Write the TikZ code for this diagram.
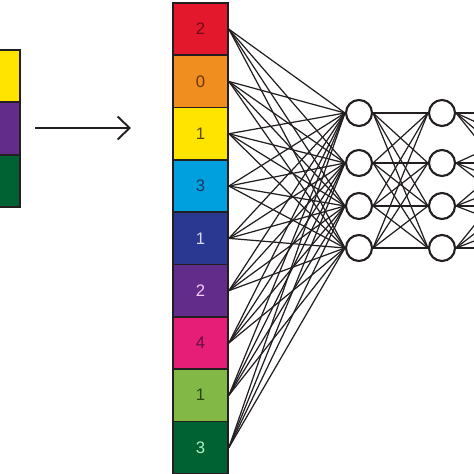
\documentclass[tikz,border=0pt]{standalone}
\usepackage{fontspec}
\setsansfont{Liberation Sans}
\usetikzlibrary{arrows.meta}
\definecolor{cedge}{RGB}{35,31,32}
\definecolor{cred}{RGB}{227,24,44}
\definecolor{corg}{RGB}{240,142,32}
\definecolor{cyel}{RGB}{255,228,0}
\definecolor{cblu}{RGB}{0,160,222}
\definecolor{cnav}{RGB}{43,56,145}
\definecolor{cpur}{RGB}{97,44,138}
\definecolor{cpnk}{RGB}{231,30,120}
\definecolor{clgr}{RGB}{130,185,70}
\definecolor{cdgr}{RGB}{0,98,50}
\definecolor{tred}{RGB}{120,10,20}
\definecolor{torg}{RGB}{105,55,10}
\definecolor{tyel}{RGB}{90,75,0}
\definecolor{tblu}{RGB}{25,55,105}
\definecolor{tnav}{RGB}{215,218,245}
\definecolor{tpur}{RGB}{245,205,245}
\definecolor{tpnk}{RGB}{100,15,60}
\definecolor{tlgr}{RGB}{40,70,15}
\definecolor{tdgr}{RGB}{170,240,195}
\tikzset{
  cell/.style={draw=cedge, line width=1pt, minimum width=1.1cm,
    minimum height=1.046cm, inner sep=0pt, font=\sffamily\fontsize{9.5}{11}\selectfont},
  unit/.style={circle, draw=cedge, line width=1.2pt, minimum size=0.52cm, inner sep=0pt},
  link/.style={cedge, line width=0.7pt}
}

\begin{document}
\begin{tikzpicture}[x=0.02cm, y=-0.02cm]
    \useasboundingbox (0, 0) rectangle (474, 474);
    \begin{scope}
    \clip (0, 0) rectangle (474, 474);
    % cut-off column on the left
    \fill[cyel](-40, 50)rectangle(20, 102);
    \fill[cpur](-40, 102)rectangle(20, 155);
    \fill[cdgr](-40, 155)rectangle(20, 207);
    \draw[cedge, line width=1pt](-40, 50)rectangle(20, 207);
    \draw[cedge, line width=1pt](-40, 102)--(20, 102);
    \draw[cedge, line width=1pt](-40, 155)--(20, 155);
    % arrow
    \coordinate (a0) at (35, 128);
    \coordinate (a1) at (131, 128);
    \draw[cedge, line width=1.1pt, -{Straight Barb[length=2.4mm, width=4.6mm]}](a0)--(a1);
    % encoded column
    \foreach \i/\v/\c/\t in {1/2/cred/tred, 2/0/corg/torg, 3/1/cyel/tyel,
        4/3/cblu/tblu, 5/1/cnav/tnav, 6/2/cpur/tpur, 7/4/cpnk/tpnk,
        8/1/clgr/tlgr, 9/3/cdgr/tdgr}
        \node[cell, fill=\c, text=\t] (x\i) at (200.5, {3+52.3*(\i-0.5)}) {\v};
    % layers
    \foreach \j/\y in {1/113, 2/163, 3/206, 4/248} {
        \node[unit] (h\j) at (359, \y) {};
        \node[unit] (g\j) at (442, \y) {};
        \coordinate (o\j) at (565, \y);
    }
    \foreach \i in {1,...,9}
        \foreach \j in {1,...,4}
            \draw[link](x\i.east)--(h\j.west);
    \foreach \j in {1,...,4}
        \foreach \k in {1,...,4} {
            \draw[link](h\j.east)--(g\k.west);
            \draw[link](g\j.east)--(o\k);
        }
    \end{scope}
\end{tikzpicture}
\end{document}
